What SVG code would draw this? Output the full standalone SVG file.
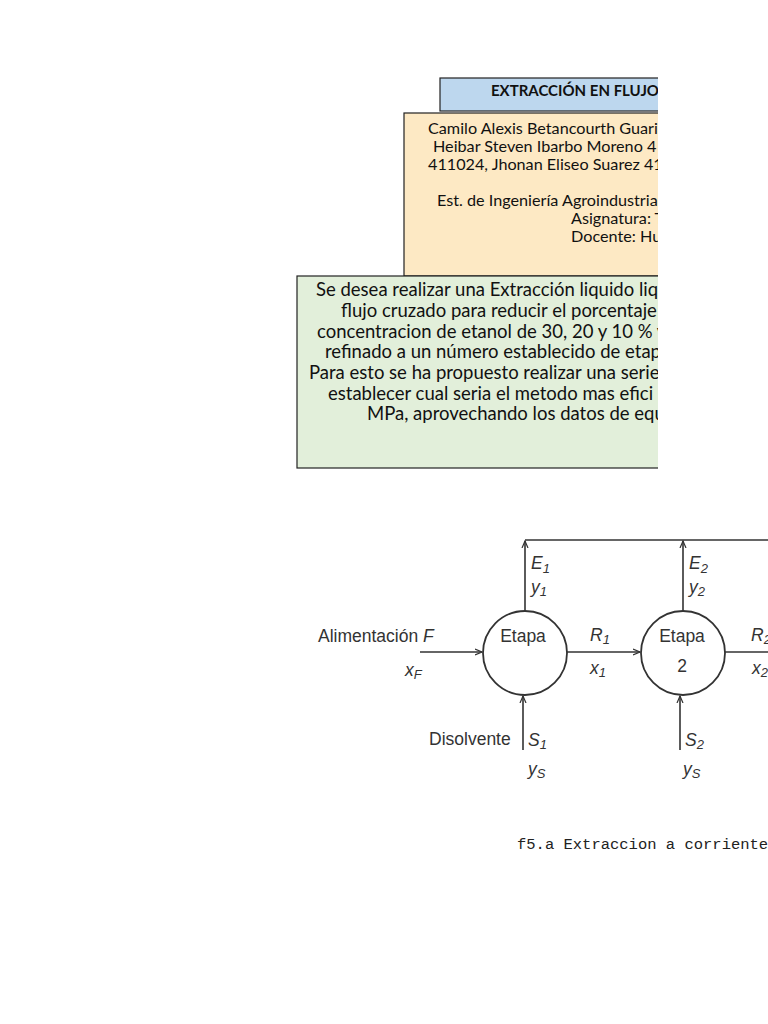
<svg xmlns="http://www.w3.org/2000/svg" width="768" height="1024" viewBox="0 0 768 1024">
<style>
.c{font-family:Lato,"Liberation Sans",sans-serif;fill:#111}
.d{font-family:"Liberation Sans",sans-serif;fill:#333;font-size:17.5px}
.i{font-style:italic}
.s{font-size:13px}
.ln{stroke:#333;stroke-width:1.6;fill:none}
</style>
<defs>
<clipPath id="cp"><rect x="0" y="0" width="658" height="1024"/></clipPath>
<marker id="a" markerWidth="8" markerHeight="8" refX="7" refY="4" orient="auto" markerUnits="userSpaceOnUse"><path d="M0,1 L7,4 L0,7" fill="none" stroke="#333" stroke-width="1.2"/></marker>
</defs>
<rect width="768" height="1024" fill="#fff"/>
<g clip-path="url(#cp)">
<g id="title"><rect x="440" y="78" width="230" height="33" fill="#bdd7ee" stroke="#222" stroke-width="1.2"/>
<text class="c" x="491" y="96" font-size="15" font-weight="bold">EXTRACCIÓN EN FLUJO</text></g>
<g id="authors"><rect x="404" y="113" width="270" height="163" fill="#fde9c4" stroke="#222" stroke-width="1.2"/>
<g class="c" font-size="16.2">
<text x="428" y="134">Camilo Alexis Betancourth Guari</text>
<text x="433" y="152">Heibar Steven Ibarbo Moreno 4</text>
<text x="428" y="170">411024, Jhonan Eliseo Suarez 41</text>
<text x="437" y="206">Est. de Ingeniería Agroindustria</text>
<text x="571" y="224">Asignatura: T</text>
<text x="571" y="242">Docente: Hu</text></g></g>
<g id="problem"><rect x="297" y="276" width="380" height="192" fill="#e2efda" stroke="#222" stroke-width="1.2"/>
<g class="c" font-size="18.5">
<text x="316" y="296">Se desea realizar una Extracción liquido liq</text>
<text x="341" y="317">flujo cruzado para reducir el porcentaje</text>
<text x="317" y="338">concentracion de etanol de 30, 20 y 10 % y</text>
<text x="325" y="358">refinado a un número establecido de etap</text>
<text x="309" y="379">Para esto se ha propuesto realizar una serie</text>
<text x="328" y="400">establecer cual seria el metodo mas efici</text>
<text x="367" y="420">MPa, aprovechando los datos de equ</text></g></g>
</g>
<g id="connectors">
<path class="ln" d="M525,540 H768"/>
<path class="ln" d="M525,611 V541" marker-end="url(#a)"/>
<path class="ln" d="M683,611 V541" marker-end="url(#a)"/>
<path class="ln" d="M420,652 H482" marker-end="url(#a)"/>
<path class="ln" d="M567,652 H640" marker-end="url(#a)"/>
<path class="ln" d="M725,652 H768"/>
<path class="ln" d="M523,750 V696" marker-end="url(#a)"/>
<path class="ln" d="M680,750 V696" marker-end="url(#a)"/>
</g>
<g id="stage1"><circle cx="525" cy="653" r="42" fill="#fff" stroke="#333" stroke-width="1.8"/>
<text class="d" x="523" y="642" text-anchor="middle">Etapa</text></g>
<g id="stage2"><circle cx="683" cy="653" r="42" fill="#fff" stroke="#333" stroke-width="1.8"/>
<text class="d" x="682" y="642" text-anchor="middle">Etapa</text>
<text class="d" x="682" y="672" text-anchor="middle">2</text></g>
<g class="d">
<text x="318" y="642">Alimentación <tspan class="i">F</tspan></text>
<text class="i" x="405" y="676">x<tspan class="s" dy="3">F</tspan></text>
<text class="i" x="531" y="569">E<tspan class="s" dy="4">1</tspan></text>
<text class="i" x="531" y="593">y<tspan class="s" dy="3">1</tspan></text>
<text class="i" x="689" y="569">E<tspan class="s" dy="4">2</tspan></text>
<text class="i" x="689" y="593">y<tspan class="s" dy="3">2</tspan></text>
<text class="i" x="590" y="641">R<tspan class="s" dy="3">1</tspan></text>
<text class="i" x="590" y="674">x<tspan class="s" dy="3">1</tspan></text>
<text class="i" x="751" y="641">R<tspan class="s" dy="3">2</tspan></text>
<text class="i" x="752" y="674">x<tspan class="s" dy="3">2</tspan></text>
<text x="429" y="745">Disolvente</text>
<text class="i" x="528" y="746">S<tspan class="s" dy="3">1</tspan></text>
<text class="i" x="528" y="775">y<tspan class="s" dy="3">S</tspan></text>
<text class="i" x="685" y="746">S<tspan class="s" dy="3">2</tspan></text>
<text class="i" x="683" y="775">y<tspan class="s" dy="3">S</tspan></text>
</g>
<text x="517" y="849" font-family="Liberation Mono,monospace" font-size="15.5" fill="#222">f5.a Extraccion a corriente</text>
</svg>
